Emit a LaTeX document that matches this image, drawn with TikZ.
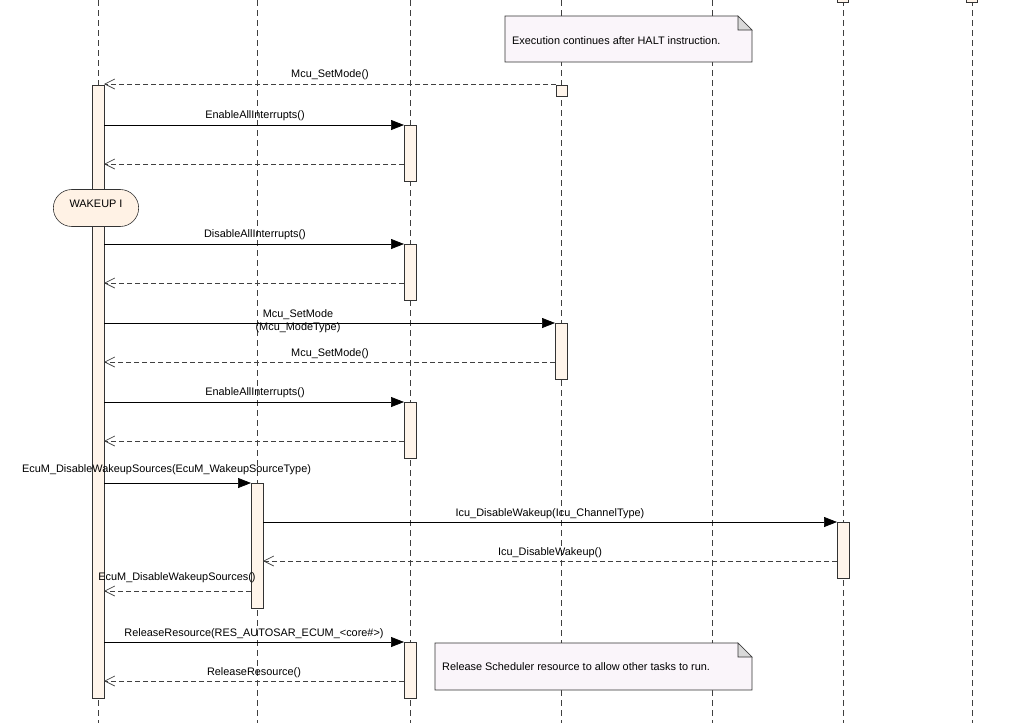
\documentclass[tikz,border=0pt]{standalone}
\usepackage{fontspec}
\setmainfont{Liberation Sans}
\usetikzlibrary{arrows.meta,shapes.misc}
\begin{document}
\begin{tikzpicture}[x=1pt,y=-1pt,
 life/.style={draw=black!75,dash pattern=on 6pt off 4pt,line width=0.7pt},
 act/.style={draw=black!80,fill=orange!8,line width=0.6pt},
 call/.style={line width=0.7pt,-{Triangle[length=13pt,width=10pt]}},
 ret/.style={draw=black!75,line width=0.7pt,dash pattern=on 5pt off 3pt,-{Straight Barb[length=10pt,width=10pt]}},
 lab/.style={font=\fontsize{10.9}{12.5}\selectfont,inner sep=1pt,align=center},
 note/.style={draw=black!80,fill=violet!4,line width=0.6pt}]
\useasboundingbox (0,0) rectangle (1016,723);
\foreach \x in {98,257,410,561,712,843,972} \draw[life] (\x,0) -- (\x,723);
\node[act,minimum width=11pt,minimum height=5pt,inner sep=0] (tb1) at (843,0) {};
\node[act,minimum width=11pt,minimum height=5pt,inner sep=0] (tb2) at (972,0) {};
% activations
\filldraw[act] (92,85) rectangle (104,698);
\filldraw[act] (404,125) rectangle (416,181);
\filldraw[act] (404,244) rectangle (416,300);
\filldraw[act] (404,402) rectangle (416,458);
\filldraw[act] (404,642) rectangle (416,698);
\filldraw[act] (556,85) rectangle (567,96);
\filldraw[act] (555,323) rectangle (567,379);
\filldraw[act] (251,483) rectangle (263,608);
\filldraw[act] (837,522) rectangle (849,578);
\coordinate (a1) at (104,84); \coordinate (s1) at (556,84);
\draw[ret] (s1) -- (a1); \node[lab] at (330,75) {Mcu\_SetMode()};
\foreach \y/\t in {125/EnableAllInterrupts(),244/DisableAllInterrupts(),402/EnableAllInterrupts()}{
 \draw[call] (104,\y) -- (404,\y); \node[lab] at (255,\y-9) {\t};
 \draw[ret] (404,\y+39) -- (104,\y+39);}
\node[draw=black!80,fill=orange!10,rounded rectangle,minimum width=92pt,minimum height=37pt,line width=0.6pt,font=\fontsize{10.9}{12}\selectfont] (wk) at (96,208) {\raisebox{8pt}{WAKEUP I}};
\draw[call] (104,323) -- (555,323); \node[lab] at (298,321) {Mcu\_SetMode\\(Mcu\_ModeType)};
\draw[ret] (555,362) -- (104,362); \node[lab] at (330,354) {Mcu\_SetMode()};
\draw[call] (104,483) -- (251,483); \node[lab,anchor=west] at (21,470) {EcuM\_DisableWakeupSources(EcuM\_WakeupSourceType)};
\draw[call] (263,522) -- (837,522); \node[lab] at (550,514) {Icu\_DisableWakeup(Icu\_ChannelType)};
\draw[ret] (837,561) -- (263,561); \node[lab] at (550,553) {Icu\_DisableWakeup()};
\draw[ret] (251,591) -- (104,591); \node[lab] at (177,578) {EcuM\_DisableWakeupSources()};
\draw[call] (104,642) -- (404,642); \node[lab] at (254,634) {ReleaseResource(RES\_AUTOSAR\_ECUM\_<core\#>)};
\draw[ret] (404,681) -- (104,681); \node[lab] at (254,673) {ReleaseResource()};
% notes
\draw[note] (505,16) -- (738,16) -- (752,30) -- (752,62) -- (505,62) -- cycle;
\filldraw[draw=black!80,fill=black!15,line width=0.6pt] (738,16) -- (738,30) -- (752,30) -- cycle;
\node[lab,anchor=west] (n1) at (511,41) {Execution continues after HALT instruction.};
\draw[note] (435,643) -- (738,643) -- (752,657) -- (752,690) -- (435,690) -- cycle;
\filldraw[draw=black!80,fill=black!15,line width=0.6pt] (738,643) -- (738,657) -- (752,657) -- cycle;
\node[lab,anchor=west] (n2) at (441,667) {Release Scheduler resource to allow other tasks to run.};
\end{tikzpicture}
\end{document}
